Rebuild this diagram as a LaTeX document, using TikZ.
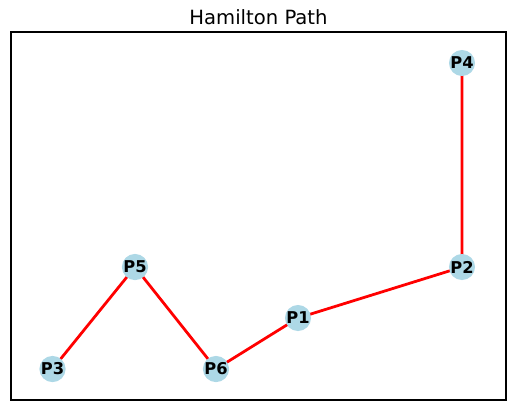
\documentclass[tikz,border=0pt]{standalone}
\usepackage{fontspec}
\setmainfont{DejaVu Sans}
\definecolor{lightblue}{HTML}{ADD8E6}
\tikzset{
  pnode/.style={circle, fill=lightblue, minimum size=15.5pt, inner sep=0pt, font=\fontsize{12.2pt}{14pt}\selectfont\bfseries},
  pedge/.style={red, line width=2.08pt},
}
\begin{document}
\begin{tikzpicture}[x=0.75pt, y=-0.75pt]
\useasboundingbox (0,0) rectangle (515,411);
\draw[line width=0.8pt] (11,32) rectangle (506,400);
\node[font=\fontsize{14.7pt}{16pt}\selectfont] (title) at (258.5,17) {Hamilton Path};
\coordinate (c4) at (462,63);
\coordinate (c2) at (462,267);
\coordinate (c5) at (135,267);
\coordinate (c1) at (298,318);
\coordinate (c3) at (52.5,369);
\coordinate (c6) at (216,369);
\draw[pedge] (c4) -- (c2) -- (c1) -- (c6) -- (c5) -- (c3);
\node[pnode] (P4) at (c4) {P4};
\node[pnode] (P2) at (c2) {P2};
\node[pnode] (P5) at (c5) {P5};
\node[pnode] (P1) at (c1) {P1};
\node[pnode] (P3) at (c3) {P3};
\node[pnode] (P6) at (c6) {P6};
\end{tikzpicture}
\end{document}
